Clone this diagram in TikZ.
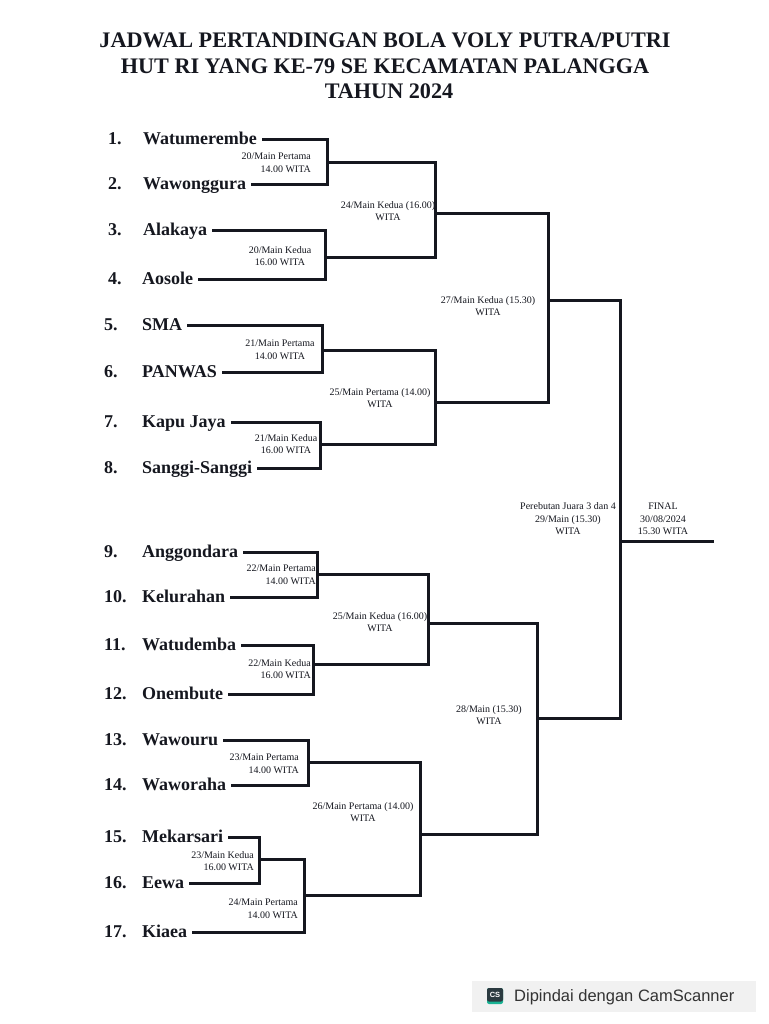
\documentclass[tikz,border=0pt]{standalone}
\usepackage{fontspec}
\setmainfont{Liberation Serif}
\setsansfont{Liberation Sans}
\definecolor{ink}{HTML}{15171F}
\definecolor{badge}{HTML}{F1F1F1}
\definecolor{csdark}{HTML}{2B3A40}
\definecolor{csteal}{HTML}{19B394}
\begin{document}
\begin{tikzpicture}[x=1pt,y=-1pt,
  title/.style={font=\fontsize{22.2}{24}\selectfont\bfseries, inner sep=0, text=ink},
  team/.style={font=\fontsize{18}{20}\selectfont\bfseries, inner sep=0, anchor=base west, text=ink},
  lbl/.style={font=\fontsize{10}{12.5}\selectfont, inner sep=0, align=center, text=ink},
  lblr/.style={lbl, align=right, anchor=east},
  br/.style={line width=3pt, draw=ink}]
\useasboundingbox (0,0) rectangle (768,1024);
\fill[white] (0,0) rectangle (768,1024);

% title
\node[title] (h1) at (385,40) {JADWAL PERTANDINGAN BOLA VOLY PUTRA/PUTRI};
\node[title] (h2) at (385,66) {HUT RI YANG KE-79 SE KECAMATAN PALANGGA};
\node[title] (h3) at (389,91) {TAHUN 2024};

% numbers
\foreach \n/\y in {1/140,2/185,3/231,4/279} \node[team] (n\n) at (108,\y+5) {\n.};
\foreach \n/\y in {5/325,6/372,7/422,8/468,9/552,10/597,11/645,12/694,13/740,14/785,15/837,16/883,17/932} \node[team] (n\n) at (104,\y+5) {\n.};

% teams
\node[team] (t1) at (143,145) {Watumerembe};
\node[team] (t2) at (143,190) {Wawonggura};
\node[team] (t3) at (143,236) {Alakaya};
\node[team] (t4) at (142,284) {Aosole};
\node[team] (t5) at (142,330) {SMA};
\node[team] (t6) at (142,377) {PANWAS};
\node[team] (t7) at (142,427) {Kapu Jaya};
\node[team] (t8) at (142,473) {Sanggi-Sanggi};
\node[team] (t9) at (142,557) {Anggondara};
\node[team] (t10) at (142,602) {Kelurahan};
\node[team] (t11) at (142,650) {Watudemba};
\node[team] (t12) at (142,699) {Onembute};
\node[team] (t13) at (142,745) {Wawouru};
\node[team] (t14) at (142,790) {Waworaha};
\node[team] (t15) at (142,842) {Mekarsari};
\node[team] (t16) at (142,888) {Eewa};
\node[team] (t17) at (142,937) {Kiaea};

\foreach \i in {1,...,17} \coordinate (s\i) at ([xshift=5pt,yshift=5pt]t\i.base east);

% joints
\coordinate (a1) at (327,163);
\coordinate (a2) at (325,257);
\coordinate (a3) at (322,350);
\coordinate (a4) at (320,444);
\coordinate (a5) at (317,574);
\coordinate (a6) at (313,664);
\coordinate (a7) at (308,762);
\coordinate (a8) at (259,859);
\coordinate (a9) at (304,895);
\coordinate (b1) at (435,214);
\coordinate (b2) at (435,402);
\coordinate (b3) at (428,623);
\coordinate (b4) at (420,834);
\coordinate (c1) at (548,300);
\coordinate (c2) at (537,718);
\coordinate (f) at (620,541);
\coordinate (fe) at (714,541);

% round 1
\draw[br] (s1) -| (a1) |- (s2);
\draw[br] (s3) -| (a2) |- (s4);
\draw[br] (s5) -| (a3) |- (s6);
\draw[br] (s7) -| (a4) |- (s8);
\draw[br] (s9) -| (a5) |- (s10);
\draw[br] (s11) -| (a6) |- (s12);
\draw[br] (s13) -| (a7) |- (s14);
\draw[br] (s15) -| (a8) |- (s16);
\draw[br] (a8) -| (a9) |- (s17);
% round 2
\draw[br] (a1) -| (b1) |- (a2);
\draw[br] (a3) -| (b2) |- (a4);
\draw[br] (a5) -| (b3) |- (a6);
\draw[br] (a7) -| (b4) |- (a9);
% round 3
\draw[br] (b1) -| (c1) |- (b2);
\draw[br] (b3) -| (c2) |- (b4);
% final
\draw[br] (c1) -| (f) |- (c2);
\draw[br] (f) -- (fe);

% labels
\node[lblr] (l1) at (311,163) {20/Main Pertama\\14.00 WITA};
\node[lbl] (l2) at (388,211) {24/Main Kedua (16.00)\\WITA};
\node[lbl] (l3) at (280,256) {20/Main Kedua\\16.00 WITA};
\node[lbl] (l4) at (488,306) {27/Main Kedua (15.30)\\WITA};
\node[lbl] (l5) at (280,350) {21/Main Pertama\\14.00 WITA};
\node[lbl] (l6) at (380,398) {25/Main Pertama (14.00)\\WITA};
\node[lbl] (l7) at (286,444) {21/Main Kedua\\16.00 WITA};
\node[lbl] (l8) at (568,519) {Perebutan Juara 3 dan 4\\29/Main (15.30)\\WITA};
\node[lbl] (l9) at (663,519) {FINAL\\30/08/2024\\15.30 WITA};
\node[lblr] (l10) at (316,575) {22/Main Pertama\\14.00 WITA};
\node[lbl] (l11) at (380,622) {25/Main Kedua (16.00)\\WITA};
\node[lblr] (l12) at (311,669) {22/Main Kedua\\16.00 WITA};
\node[lbl] (l13) at (489,715) {28/Main (15.30)\\WITA};
\node[lblr] (l14) at (299,764) {23/Main Pertama\\14.00 WITA};
\node[lbl] (l15) at (363,812) {26/Main Pertama (14.00)\\WITA};
\node[lblr] (l16) at (254,861) {23/Main Kedua\\16.00 WITA};
\node[lblr] (l17) at (298,909) {24/Main Pertama\\14.00 WITA};

% scanner badge
\fill[badge] (472,981) rectangle (756,1012);
\fill[csteal, rounded corners=2pt] (487,988) rectangle (503,1004);
\fill[csdark, rounded corners=2pt] (487,988) rectangle (503,1001.5);
\node[font=\sffamily\bfseries\fontsize{7.5}{8}\selectfont, text=white, inner sep=0] (cs) at (495,994.8) {CS};
\node[font=\sffamily\fontsize{16.5}{18}\selectfont, text=black!80, inner sep=0, anchor=west] (scan) at (514,997) {Dipindai dengan CamScanner};
\end{tikzpicture}
\end{document}
